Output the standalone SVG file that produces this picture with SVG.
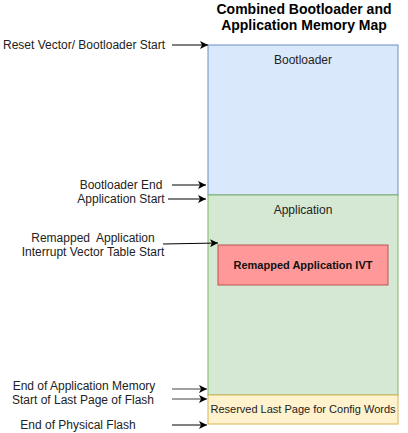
<svg xmlns="http://www.w3.org/2000/svg" width="408" height="433" viewBox="0 0 408 433">
<defs>
<marker id="ah" viewBox="0 0 10 10" refX="10" refY="5" markerWidth="8" markerHeight="8" markerUnits="userSpaceOnUse" orient="auto">
<path d="M0,0 L10,5 L0,10 L2.5,5 Z" fill="#000"/>
</marker>
<style>
text{font-family:"Liberation Sans",Arial,sans-serif;font-size:12px;fill:#222}
.c{text-anchor:middle}
.t{font-weight:bold;font-size:14px;fill:#000}
.b{font-weight:bold;font-size:11px;fill:#111}
.s{font-size:11px}
.a{fill:none;stroke:#000;stroke-width:1;marker-end:url(#ah)}
.g{stroke:#808080;stroke-width:1.5}
</style>
</defs>
<rect width="408" height="433" fill="#fff"/>
<g id="title">
<text class="c t" x="304" y="14">Combined Bootloader and</text>
<text class="c t" x="304" y="30">Application Memory Map</text>
</g>
<g id="bootloader">
<rect x="208" y="45" width="190" height="150" fill="#dae8fc" stroke="#6c8ebf"/>
<text class="c" x="303" y="64">Bootloader</text>
</g>
<g id="application">
<rect x="208" y="195" width="190" height="200" fill="#d5e8d4" stroke="#82b366"/>
<text class="c" x="303" y="214">Application</text>
</g>
<g id="ivt">
<rect x="218" y="245" width="170" height="40" fill="#ff9999" stroke="#b85450"/>
<text class="c b" x="303" y="269">Remapped Application IVT</text>
</g>
<g id="reserved">
<rect x="208" y="395" width="190" height="29" fill="#fff2cc" stroke="#d6b656"/>
<text class="c s" x="303" y="413">Reserved Last Page for Config Words</text>
</g>
<g id="labels">
<text x="3" y="49">Reset Vector/ Bootloader Start</text>
<text class="c" x="121" y="189">Bootloader End</text>
<text class="c" x="121" y="203">Application Start</text>
<text class="c" x="93" y="242" xml:space="preserve">Remapped  Application</text>
<text class="c" x="93" y="256">Interrupt Vector Table Start</text>
<text class="c" x="84" y="390">End of Application Memory</text>
<text class="c" x="83" y="404">Start of Last Page of Flash</text>
<text class="c" x="78" y="429">End of Physical Flash</text>
</g>
<g id="connectors">
<line class="a" x1="172" y1="45" x2="208" y2="45"/>
<line class="a" x1="172" y1="185" x2="206" y2="185"/>
<line class="a" x1="168" y1="199" x2="206" y2="199"/>
<line class="a" x1="163" y1="244" x2="218" y2="243"/>
<line class="a g" x1="172" y1="389" x2="207" y2="389"/>
<line class="a g" x1="172" y1="399" x2="207" y2="399"/>
<line class="a" x1="172" y1="425" x2="207" y2="425"/>
</g>
</svg>
